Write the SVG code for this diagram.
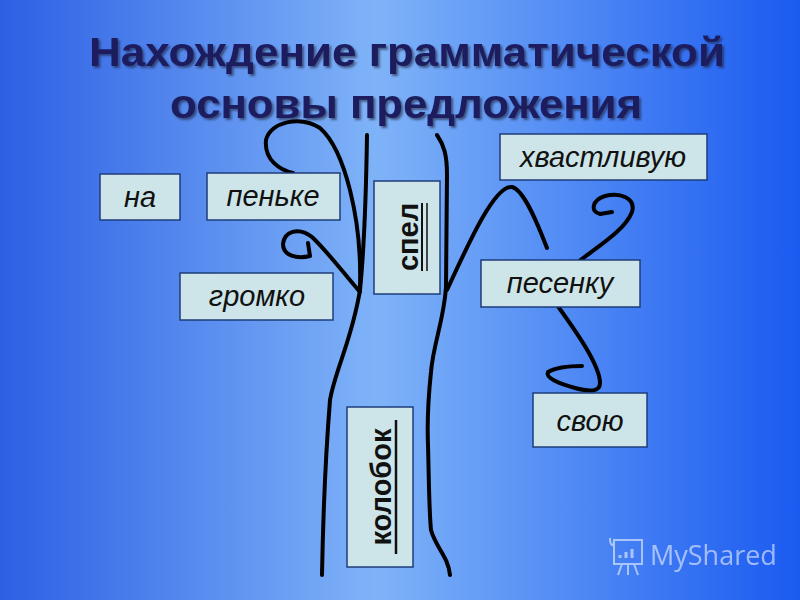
<svg xmlns="http://www.w3.org/2000/svg" width="800" height="600" viewBox="0 0 800 600">
<defs>
<linearGradient id="bg" x1="0" y1="0" x2="1" y2="0">
<stop offset="0" stop-color="#2c5fe4"/>
<stop offset="0.47" stop-color="#7fb3f8"/>
<stop offset="1" stop-color="#1a5af0"/>
</linearGradient>
<filter id="sh"><feDropShadow dx="2" dy="2" stdDeviation="1.2" flood-color="#223" flood-opacity="0.6"/></filter>
</defs>
<style>
.box{fill:#cde5e8;stroke:#1e3c7a;stroke-width:1.5}
.w{font-family:"Liberation Sans",Arial,sans-serif;font-size:29px;font-style:italic;fill:#111;text-anchor:middle}
.v{font-family:"Liberation Sans",Arial,sans-serif;font-size:29px;font-weight:bold;fill:#111;text-anchor:middle}
.t{font-family:"Liberation Sans",Arial,sans-serif;font-size:41px;font-weight:bold;fill:#1a1f5e;text-anchor:middle}
.ln{fill:none;stroke:#000;stroke-width:4;stroke-linecap:round;stroke-linejoin:round}
</style>
<rect width="800" height="600" fill="url(#bg)"/>
<g id="title" filter="url(#sh)">
<text class="t" x="407" y="66" textLength="636" lengthAdjust="spacingAndGlyphs">Нахождение грамматической</text>
<text class="t" x="406" y="118" textLength="472" lengthAdjust="spacingAndGlyphs">основы предложения</text>
</g>
<g id="connectors">
<path class="ln" d="M367,135 C366,200 364,250 360,290 C352,340 335,370 330,400 C326,450 323,520 322,575"/>
<path class="ln" d="M437,135 C444,145 447,155 447,175 L446,287 C444,320 433,345 431,372 C428,400 427,420 428,445 C429,480 429,510 431,530 C436,548 448,556 450,575"/>
<path class="ln" d="M360,287 C362,220 345,150 320,128 C300,115 270,122 266,140 C264,160 280,170 293,173"/>
<path class="ln" d="M360,292 C345,275 328,252 312,237 C298,226 284,232 283,244 C283,256 297,259 310,256 L308,243"/>
<path class="ln" d="M447,290 C470,240 495,185 512,187 C525,190 540,230 547,248"/>
<path class="ln" d="M578,262 C600,245 625,230 632,212 C636,198 620,192 605,196 C592,200 590,212 600,214 L612,212"/>
<path class="ln" d="M557,305 C575,330 600,365 600,383 C600,392 590,392 575,388 C560,384 545,378 548,372 C555,368 570,366 582,366"/>
</g>
<g id="na"><rect class="box" x="100" y="174" width="80" height="46"/><text class="w" x="140" y="207">на</text></g>
<g id="penke"><rect class="box" x="207" y="173" width="133" height="47"/><text class="w" x="273" y="206">пеньке</text></g>
<g id="gromko"><rect class="box" x="180" y="273" width="153" height="47"/><text class="w" x="257" y="306">громко</text></g>
<g id="spel"><rect class="box" x="374" y="181" width="66" height="113"/>
<text class="v" transform="translate(418,237) rotate(-90)">спел</text>
<line x1="422" y1="203" x2="422" y2="271" stroke="#111" stroke-width="2"/>
<line x1="427" y1="203" x2="427" y2="271" stroke="#111" stroke-width="1.5"/></g>
<g id="hvast"><rect class="box" x="500" y="134" width="207" height="46"/><text class="w" x="603" y="167">хвастливую</text></g>
<g id="pesenku"><rect class="box" x="481" y="260" width="159" height="47"/><text class="w" x="560" y="293">песенку</text></g>
<g id="svoyu"><rect class="box" x="533" y="393" width="114" height="54"/><text class="w" x="590" y="431">свою</text></g>
<g id="kolobok"><rect class="box" x="347" y="407" width="66" height="160"/>
<text class="v" transform="translate(391,487) rotate(-90)">колобок</text>
<line x1="396" y1="420" x2="396" y2="554" stroke="#111" stroke-width="2.5"/></g>
<g id="watermark" opacity="0.55" fill="none" stroke="#fff" stroke-width="2">
<rect x="614" y="540" width="28" height="24"/>
<path d="M610,538 C610,546 614,548 614,540 M622,564 L618,575 M634,564 L638,575 M628,564 L628,575"/>
<path d="M620,558 v-3 M626,558 v-6 M632,558 v-9" stroke-width="3"/>
<text x="650" y="565" font-family="Open Sans,Liberation Sans,sans-serif" font-size="27" fill="#fff" stroke="none">MyShared</text>
</g>
</svg>
